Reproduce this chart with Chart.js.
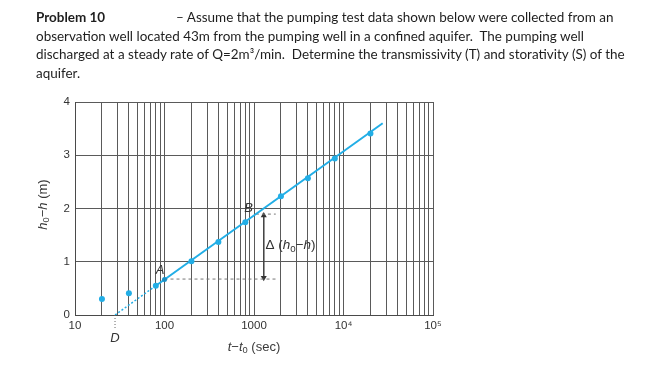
<!DOCTYPE html>
<html>
<head>
<meta charset="utf-8">
<script src="https://cdn.jsdelivr.net/npm/chart.js@4.4.0/dist/chart.umd.min.js"></script>
<style>
  html, body { margin: 0; padding: 0; background: #fff; }
  body { width: 655px; height: 375px; position: relative; overflow: hidden; }
  #chart { position: absolute; left: 0; top: 0; }
  #problem {
    position: absolute; left: 36px; top: 8px; z-index: 2;
    font-family: Lato, "Open Sans", sans-serif; font-size: 14px; line-height: 18.5px;
    color: #1e1e1e; white-space: nowrap;
  }
  #problem b { display: inline-block; width: 140px; }
</style>
</head>
<body>
<div id="problem">
  <b>Problem 10</b>– Assume that the pumping test data shown below were collected from an<br>
  <span id="fitLine">observation well located 43m from the pumping well in a confined aquifer.&nbsp; The pumping well</span><br>
  discharged at a steady rate of Q=2m³/min.&nbsp; Determine the transmissivity (T) and storativity (S) of the<br>
  aquifer.
</div>
<canvas id="chart" width="655" height="375"></canvas>
<script>
// observed drawdown vs time since pumping started
const obsTime = [20, 40, 80, 200, 400, 800, 2000, 4000, 8000, 20000];
const drawdown = [0.30, 0.41, 0.55, 1.01, 1.37, 1.74, 2.23, 2.57, 2.94, 3.41];

// straight-line fit and its dotted extension down to D
const fitTime = [80, 27400];
const fitDrawdown = [0.55, 3.60];
const extTime = [28, 80];
const extDrawdown = [0, 0.55];
const pointA = { x: 100, y: 0.665 };

// construction lines for delta(h0-h)
const lowDashTime = [100, 1750];
const lowDashValue = [0.675, 0.675];
const highDashTime = [1050, 1750];
const highDashValue = [1.895, 1.895];
const arrowTime = [1285, 1285];
const arrowValue = [1.87, 0.70];
const dropTime = [28, 28];
const dropValue = [0, -0.28];

// axes
const xMajorTicks = [10, 100, 1000, 10000, 100000];
const xMajorLabels = ["10", "100", "1000", "10⁴", "10⁵"];
const xMinorSteps = [1, 2, 3, 4, 5, 6, 7, 8, 9];
const yTicks = [0, 1, 2, 3, 4];

// letters on the plot
const noteText = ["A", "B", "D"];
const noteTime = [89, 871, 28];
const noteValue = [0.83, 2.0, -0.43];
const deltaTime = 1343;
const deltaValue = 1.31;

const BLUE = "#22aee6";
const FONT = '"Liberation Sans", Arial, sans-serif';

const xy = (xs, ys) => xs.map((v, i) => ({ x: v, y: ys[i] }));

const xGrid = [];
xMajorTicks.forEach((d, k) => {
  if (k === xMajorTicks.length - 1) { xGrid.push(d); return; }
  xMinorSteps.forEach(m => xGrid.push(Math.round(m * d)));
});

function drawRich(ctx, parts, x, y, size, align) {
  const fontFor = p => (p.it ? "italic " : "") + (p.sub ? size * 0.72 : size) + "px " + FONT;
  let w = 0;
  parts.forEach(p => { ctx.font = fontFor(p); p.w = ctx.measureText(p.t).width; w += p.w; });
  let cx = align === "left" ? x : x - w / 2;
  ctx.textAlign = "left";
  ctx.textBaseline = "middle";
  parts.forEach(p => {
    ctx.font = fontFor(p);
    ctx.fillText(p.t, cx, y + (p.sub ? size * 0.3 : 0));
    cx += p.w;
  });
}

const notes = {
  id: "notes",
  afterDatasetsDraw(chart) {
    const { ctx, chartArea, scales: { x, y } } = chart;
    ctx.save();
    ctx.fillStyle = "#333";
    ctx.textAlign = "center";
    ctx.textBaseline = "middle";
    ctx.font = "italic 13px " + FONT;
    noteText.forEach((t, i) => {
      ctx.fillText(t, x.getPixelForValue(noteTime[i]), y.getPixelForValue(noteValue[i]));
    });
    drawRich(ctx, [{ t: "Δ (" }, { t: "h", it: true }, { t: "0", sub: true }, { t: "−" }, { t: "h", it: true }, { t: ")" }],
      x.getPixelForValue(deltaTime), y.getPixelForValue(deltaValue), 13.5, "left");

    ctx.fillStyle = "#3a3a3a";
    drawRich(ctx, [{ t: "t", it: true }, { t: "−" }, { t: "t", it: true }, { t: "0", sub: true }, { t: " (sec)" }],
      (chartArea.left + chartArea.right) / 2, chartArea.bottom + 32, 13);
    ctx.translate(43, (chartArea.top + chartArea.bottom) / 2 - 4);
    ctx.rotate(-Math.PI / 2);
    drawRich(ctx, [{ t: "h", it: true }, { t: "0", sub: true }, { t: "−" }, { t: "h", it: true }, { t: " (m)" }],
      0, 0, 13);
    ctx.restore();
  }
};

const grid = { color: "#5a5a5a", lineWidth: 1, drawTicks: false };
const tickFont = { family: FONT, size: 11.5 };

new Chart(document.getElementById("chart"), {
  type: "scatter",
  data: {
    datasets: [
      { data: xy(obsTime, drawdown), pointRadius: 3, pointBorderWidth: 0, backgroundColor: BLUE },
      { data: [pointA], pointRadius: 2.5, pointBorderWidth: 0, backgroundColor: "#1a8fc4" },
      { data: xy(fitTime, fitDrawdown), showLine: true, borderColor: BLUE, borderWidth: 2, pointRadius: 0 },
      { data: xy(extTime, extDrawdown), showLine: true, borderColor: BLUE, borderWidth: 1.5, borderDash: [2, 2], pointRadius: 0 },
      { data: xy(lowDashTime, lowDashValue), showLine: true, borderColor: "#777", borderWidth: 1, borderDash: [3, 3], pointRadius: 0 },
      { data: xy(highDashTime, highDashValue), showLine: true, borderColor: "#777", borderWidth: 1, borderDash: [3, 3], pointRadius: 0 },
      { data: xy(arrowTime, arrowValue), showLine: true, borderColor: "#444", borderWidth: 1,
        pointStyle: "triangle", pointRadius: 3.5, pointRotation: [0, 180], backgroundColor: "#333", pointBorderWidth: 0 },
      { data: xy(dropTime, dropValue), showLine: true, borderColor: "#666", borderWidth: 1, borderDash: [1, 2], pointRadius: 0, clip: false }
    ]
  },
  options: {
    responsive: false,
    animation: false,
    devicePixelRatio: 1,
    layout: { padding: { left: 30, top: 102, right: 222, bottom: 20 } },
    plugins: { legend: { display: false }, tooltip: { enabled: false } },
    scales: {
      x: {
        type: "logarithmic",
        min: 10,
        max: 100000,
        afterBuildTicks: s => { s.ticks = xGrid.map(v => ({ value: v, major: xMajorTicks.includes(v) })); },
        afterFit: s => { s.height = 40; },
        grid: grid,
        border: { color: "#4a4a4a" },
        ticks: {
          autoSkip: false, maxRotation: 0, padding: 4, color: "#333", font: tickFont,
          callback: v => { const i = xMajorTicks.indexOf(v); return i >= 0 ? xMajorLabels[i] : ""; }
        }
      },
      y: {
        min: yTicks[0],
        max: yTicks[yTicks.length - 1],
        afterFit: s => { s.width = 45; },
        grid: grid,
        border: { color: "#4a4a4a" },
        ticks: { stepSize: 1, padding: 5, color: "#333", font: tickFont }
      }
    }
  },
  plugins: [notes]
});

// fit the paragraph width to the original line length
const line = document.getElementById("fitLine");
const p = document.getElementById("problem");
const w = line.getBoundingClientRect().width;
p.style.fontSize = (14 * 548 / w).toFixed(2) + "px";
</script>
</body>
</html>
